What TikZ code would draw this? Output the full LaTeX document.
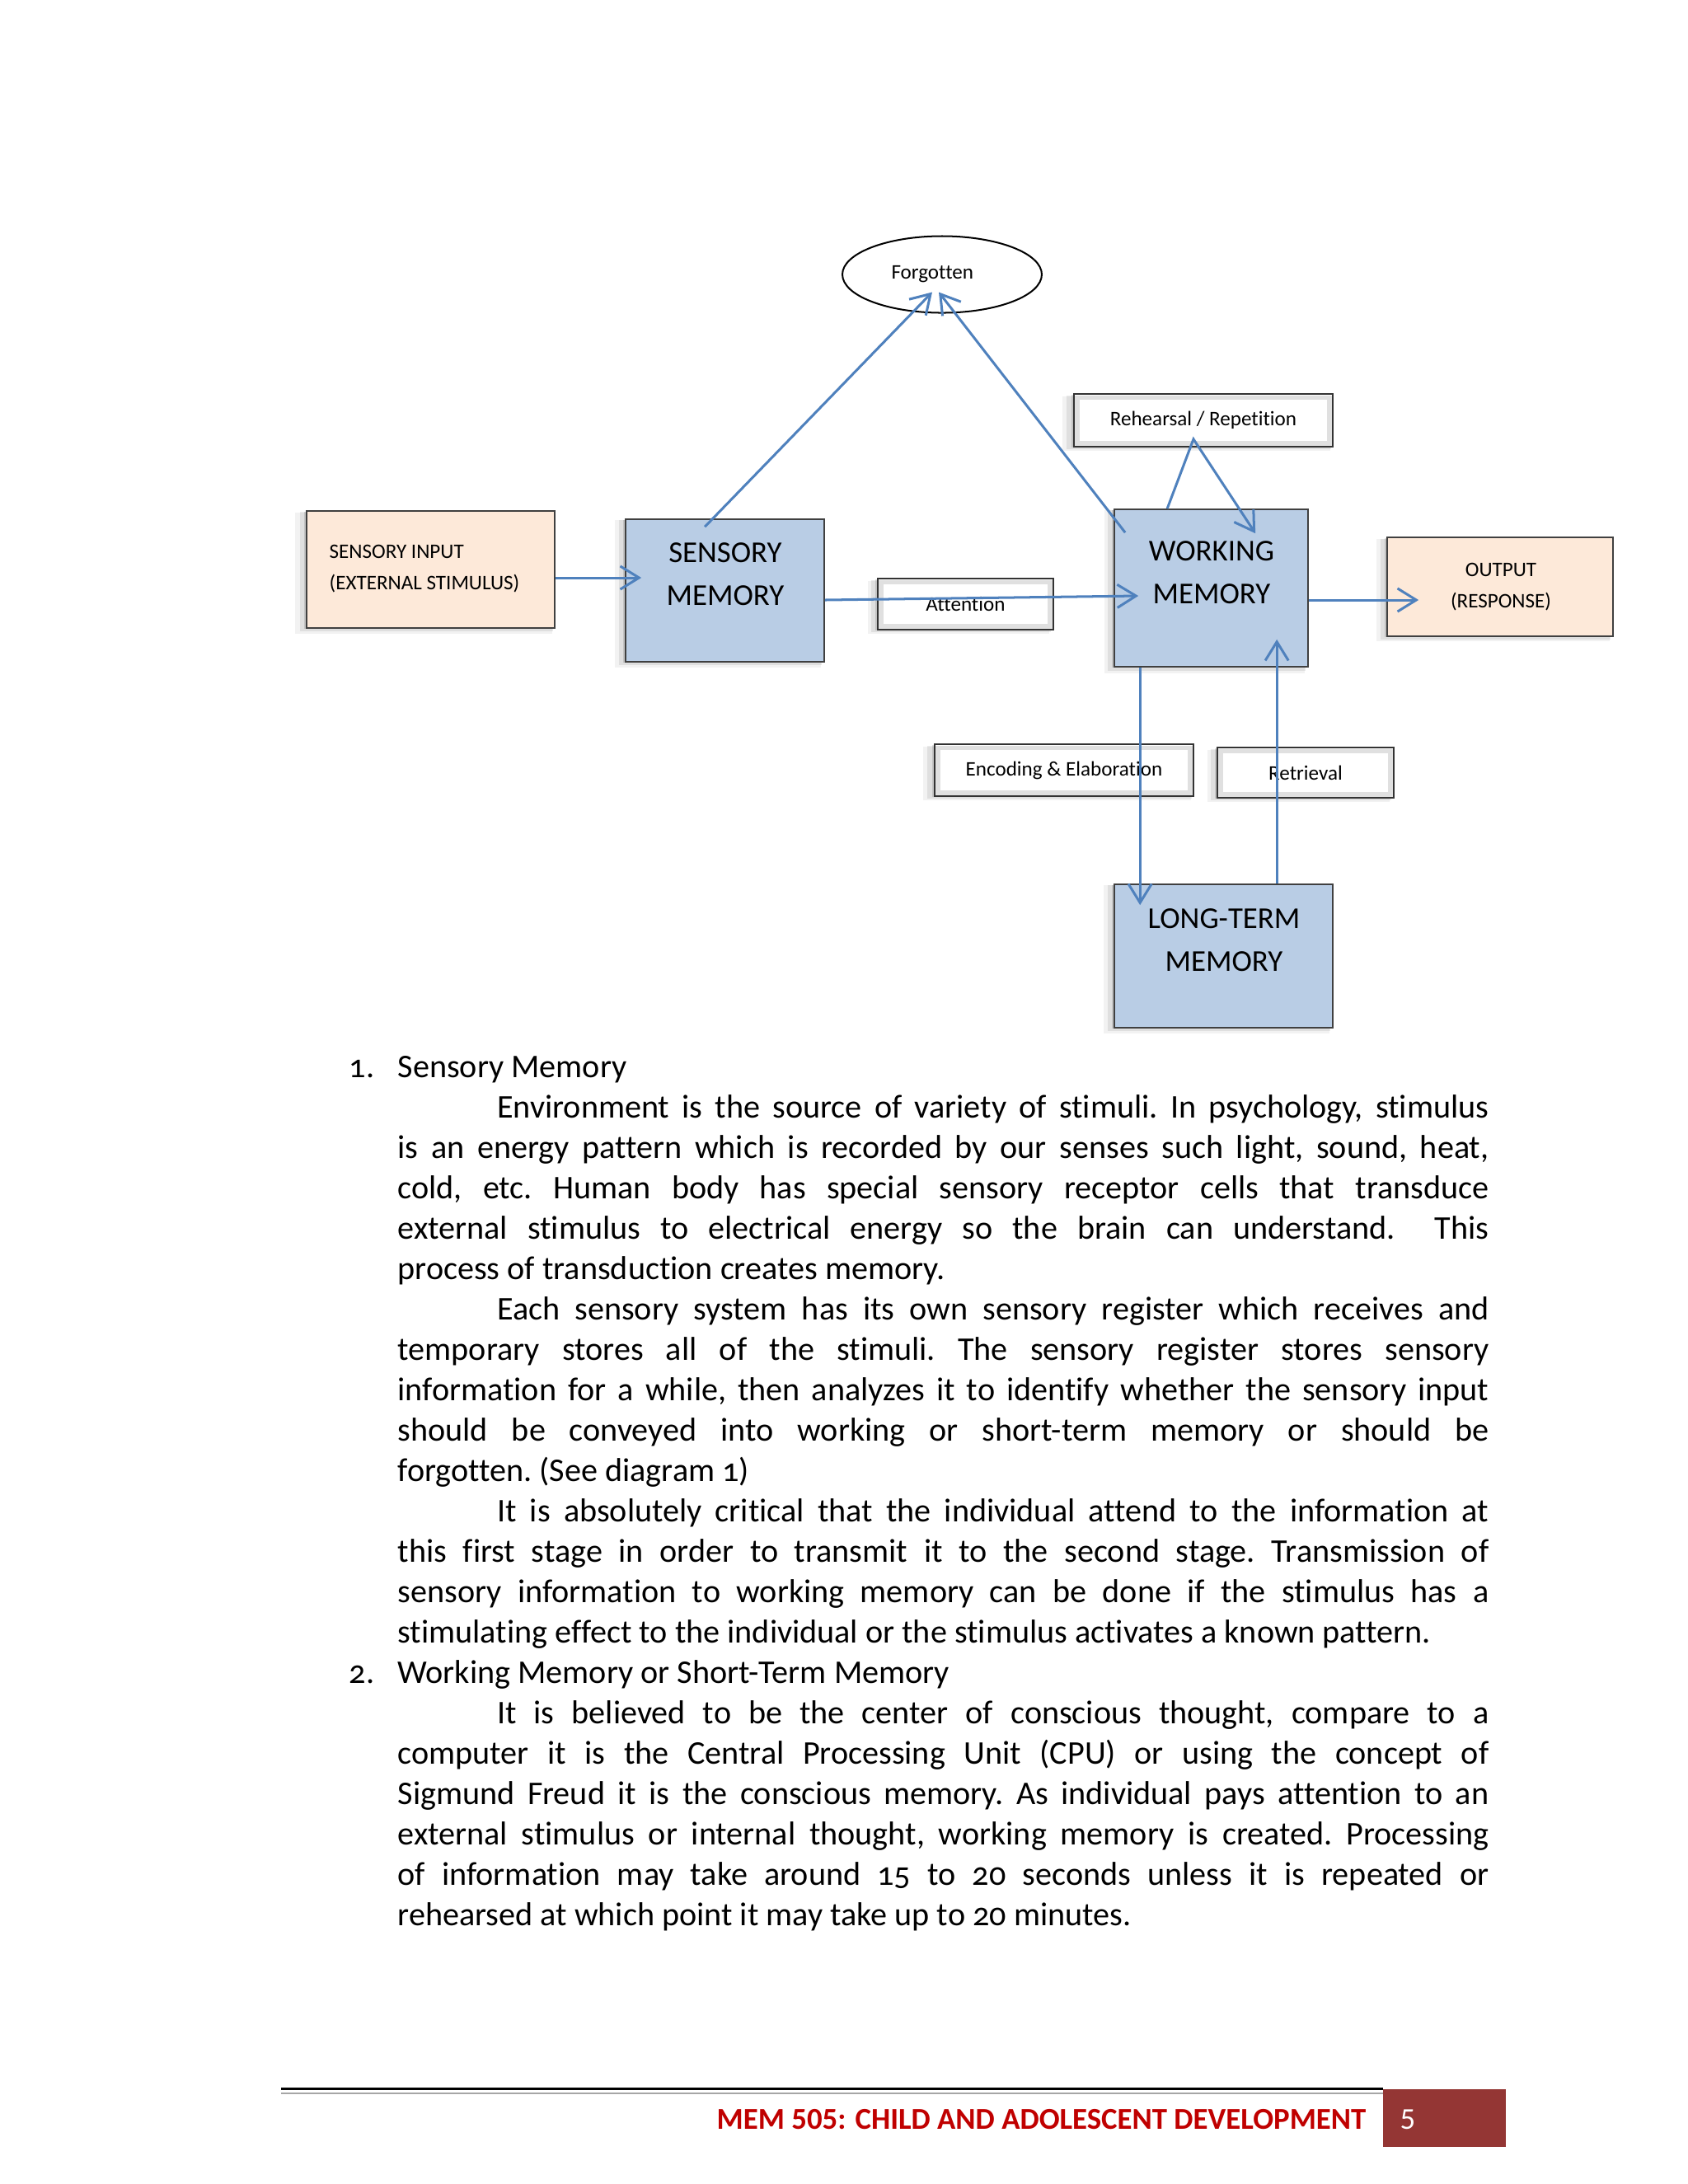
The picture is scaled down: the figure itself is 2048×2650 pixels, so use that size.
\documentclass[tikz,border=0pt]{standalone}
\usepackage{fontspec}
\setmainfont{Carlito}[Ligatures=NoCommon]
\newfontfamily\bodyfont{Carlito}[Numbers=OldStyle,Ligatures=NoCommon]
\usetikzlibrary{arrows.meta,shadows,fit,calc,shapes.geometric}
\definecolor{arrowblue}{HTML}{4F81BD}
\definecolor{boxblue}{HTML}{B9CDE5}
\definecolor{peach}{HTML}{FDE9D9}
\definecolor{footred}{HTML}{C00000}
\definecolor{pagebox}{HTML}{943634}
\def\pxu{0.29883pt}
\begin{document}
\begin{tikzpicture}[x=0.29883pt,y=-0.29883pt,
  arr/.style={draw=arrowblue, line width=0.9pt, -{Straight Barb[length=6.8pt,width=8.4pt,line width=0.9pt]}},
  soft/.style={general shadow={fill=black,opacity=.05,shadow xshift=-2.4pt,shadow yshift=-1.2pt,shadow scale=1.035},
               general shadow={fill=black,opacity=.08,shadow xshift=-1.6pt,shadow yshift=-0.8pt,shadow scale=1.02},
               general shadow={fill=black,opacity=.12,shadow xshift=-1pt,shadow yshift=-.4pt}},
  membox/.style={rectangle, draw=black!75, line width=0.5pt, fill=boxblue, inner sep=0pt, soft},
  inbox/.style={membox, fill=peach},
  lblbox/.style={rectangle, draw=black!80, line width=0.5pt, fill=white, inner sep=0pt, soft, font=\fontsize{7.5}{9}\selectfont},
  glow/.style={draw=black!12, line width=1.6pt},
  bigtxt/.style={font=\fontsize{11}{15.6}\selectfont, align=center, inner sep=0pt},
  smalltxt/.style={font=\fontsize{7.5}{11.6}\selectfont, inner sep=0pt},
]
\useasboundingbox (0,0) rectangle (2048,2650);
\fill[white] (0,0) rectangle (2048,2650);

% ---------- diagram boxes ----------
\node[ellipse, draw=black, line width=0.6pt, fill=white, minimum width=72.3pt, minimum height=27.8pt, inner sep=0pt,
      font=\fontsize{7.5}{9}\selectfont] (fg) at (1143,333) {\hspace*{-7pt}Forgotten};

\node[lblbox, minimum width={314*\pxu}, minimum height={64*\pxu}] (reh) at (1460,510) {Rehearsal / Repetition};
\node[inbox, fit={(372,620)(673,762)}] (si) {};
\node[membox, fit={(759,630)(1000,803)}] (sm) {};
\node[lblbox, minimum width={213*\pxu}, minimum height={62*\pxu}] (att) at (1171.5,733) {Attention};
\node[membox, fit={(1352,618)(1587,809)}] (wm) {};
\node[inbox, fit={(1683,652)(1957,772)}] (out) {};
\node[lblbox, minimum width={314*\pxu}, minimum height={63*\pxu}] (enc) at (1291,934.5) {Encoding \& Elaboration};
\node[lblbox, minimum width={214*\pxu}, minimum height={61*\pxu}] (ret) at (1584,937.5) {Retrieval};
\node[membox, fit={(1352,1073)(1617,1247)}] (ltm) {};

% inner glow of the label boxes
\foreach \b in {reh,att,enc,ret}{
  \draw[glow] ($(\b.south west)+(5,-5)$) rectangle ($(\b.north east)+(-5,5)$);
}

% ---------- texts in boxes ----------
\node[smalltxt, anchor=west, align=left] (sitxt) at (399,690) {SENSORY INPUT\\(EXTERNAL STIMULUS)};
\node[bigtxt] (smtxt) at (880,697) {SENSORY\\MEMORY};
\node[bigtxt] (wmtxt) at (1470,695) {WORKING\\MEMORY};
\node[smalltxt, align=center] (outtxt) at (1821,712) {OUTPUT\\(RESPONSE)};
\node[bigtxt] (ltmtxt) at (1485,1141) {LONG-TERM\\MEMORY};

% ---------- connectors ----------
\draw[arr] ($(si.east)+(0,10)$) -- ($(sm.west)+(20,-15.5)$);
\draw[arr] ($(sm.north west)+(97,10)$) -- ($(fg.south)+(-12,-26)$);
\draw[arr] ($(wm.north west)+(14,29)$) -- ($(fg.south)+(-4,-26)$);
\draw[arr] ($(sm.east)+(0,11.5)$) -- ($(wm.west)+(30,9.5)$);
\draw[arr] ($(wm.east)+(0,14.5)$) -- ($(out.west)+(39,16)$);
\coordinate (rapex) at ($(reh.south)+(-12,-10)$);
\draw[arr] ($(wm.north west)+(65,0)$) -- (rapex) -- ($(wm.north west)+(172,30)$);
\draw[arr] ($(wm.south west)+(32,0)$) -- ($(ltm.north west)+(32,26)$);
\draw[arr] ($(ltm.north west)+(198,0)$) -- ($(wm.south west)+(198,-34)$);

% ---------- body text ----------
\node[anchor=base west, inner sep=0pt, font=\bodyfont\fontsize{12}{14.64}\selectfont] (n1) at (423,1307) {1.};
\node[anchor=base west, inner sep=0pt, font=\bodyfont\fontsize{12}{14.64}\selectfont] (n2) at (423,2042) {2.};
\node[anchor=north west, inner sep=0pt, text width=395.6pt, align=justify,
      font=\bodyfont\fontsize{12}{14.64}\selectfont] (body) at (482,1272.7) {%
\setlength\parindent{36pt}\frenchspacing\hyphenpenalty=10000\exhyphenpenalty=10000\tolerance=9999\emergencystretch=20pt
\noindent\strut Sensory Memory\par
Environment is the source of variety of stimuli. In psychology, stimulus\linebreak
is an energy pattern which is recorded by our senses such light, sound, heat,\linebreak
cold, etc. Human body has special sensory receptor cells that transduce\linebreak
external stimulus to electrical energy so the brain can understand.\ \ This\linebreak
process of transduction creates memory.\par
Each sensory system has its own sensory register which receives and\linebreak
temporary stores all of the stimuli. The sensory register stores sensory\linebreak
information for a while, then analyzes it to identify whether the sensory input\linebreak
should be conveyed into working or short-term memory or should be\linebreak
forgotten. (See diagram 1)\par
It is absolutely critical that the individual attend to the information at\linebreak
this first stage in order to transmit it to the second stage. Transmission of\linebreak
sensory information to working memory can be done if the stimulus has a\linebreak
stimulating effect to the individual or the stimulus activates a known pattern.\par
\noindent Working Memory or Short-Term Memory\par
It is believed to be the center of conscious thought, compare to a\linebreak
computer it is the Central Processing Unit (CPU) or using the concept of\linebreak
Sigmund Freud it is the conscious memory. As individual pays attention to an\linebreak
external stimulus or internal thought, working memory is created. Processing\linebreak
of information may take around 15 to 20 seconds unless it is repeated or\linebreak
rehearsed at which point it may take up to 20 minutes.\par};

% ---------- footer ----------
\draw[black, line width=0.9pt] (341,2534) -- (1678,2534);
\draw[black!35, line width=0.4pt] (341,2540) -- (1678,2540);
\node[fill=pagebox, fit={(1678,2535)(1827,2605)}, inner sep=0pt] (pg) {};
\node[anchor=base west, text=white, font=\fontsize{11}{13}\selectfont, inner sep=0pt] (pgnum) at (1698,2583) {5};
\node[anchor=base east, text=footred, font=\bfseries\fontsize{11}{13}\selectfont, inner sep=0pt] (foot) at (1658,2583) {MEM 505: CHILD AND ADOLESCENT DEVELOPMENT};
\end{tikzpicture}
\end{document}
